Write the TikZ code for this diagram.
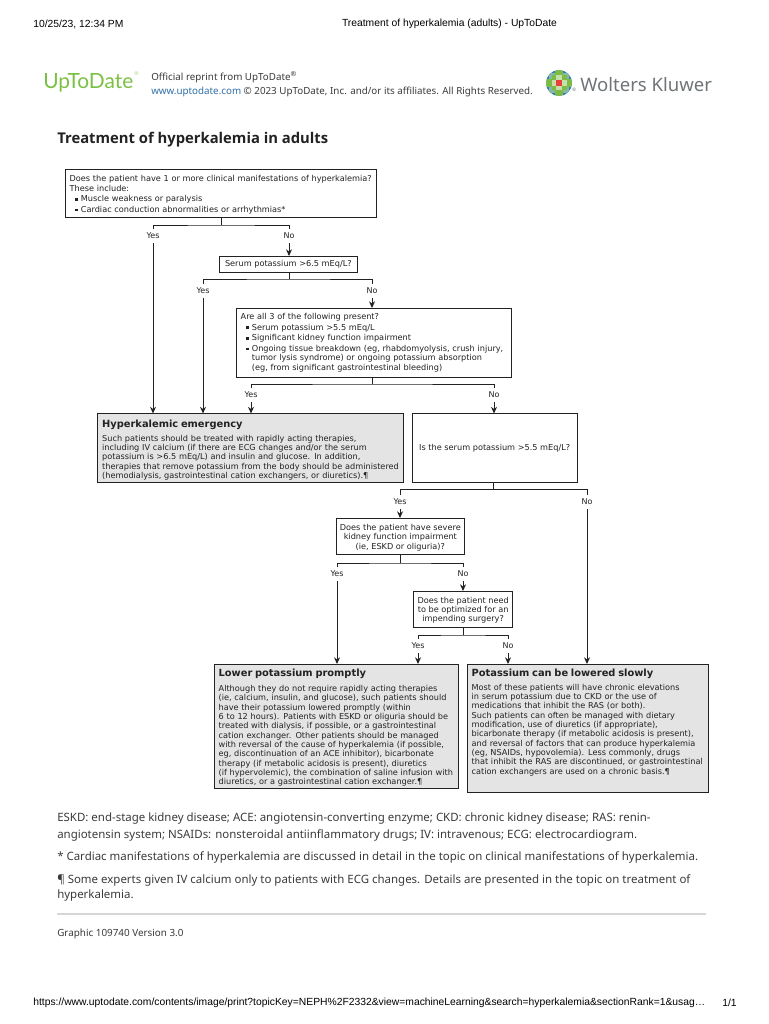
\documentclass[tikz,border=0pt]{standalone}
\usepackage{xcolor}
\usepackage{fontspec}
\setmainfont{DejaVu Sans}
\newfontfamily\utpage{Noto Sans}
\newfontfamily\uttitle{Open Sans}
\newfontfamily\utprint{Liberation Sans}
\newfontfamily\utlogo{Lato}
\definecolor{utink}{HTML}{222222}
\definecolor{utpanel}{HTML}{E4E4E4}
\definecolor{utrule}{HTML}{D6D6D6}
\definecolor{uttext}{HTML}{3A3A3A}
\definecolor{utgreen}{HTML}{7AC143}
\definecolor{utlink}{HTML}{2F6FA8}
\definecolor{utwk}{HTML}{6F7478}
\definecolor{utblue}{HTML}{2E7FB8}
\definecolor{utleaf}{HTML}{7DBB42}
\definecolor{utred}{HTML}{E8403A}
\usetikzlibrary{arrows.meta,positioning}
\tikzset{
  utnode/.style ={rectangle, draw=utink, fill=white, line width=0.7pt, outer sep=0pt,
                  inner xsep=3.5pt, inner ysep=0pt, anchor=north west, align=left,
                  font=\fontsize{6.13}{7}\selectfont, text=utink},
  utask/.style  ={utnode, align=center},
  utpanelbox/.style={utnode, fill=utpanel},
  utarrow/.style={-{Stealth[length=5pt,width=4.5pt]}, line width=0.7pt, draw=utink},
  utfork/.style ={line width=0.6pt, draw=utink},
  utlbl/.style  ={font=\fontsize{6}{7}\selectfont, text=utink, minimum height=10.5pt,
                  inner sep=0pt, outer sep=0pt},
  utpara/.style ={font=\utpage\fontsize{8.6}{12}\selectfont, text=uttext, anchor=west,
                  inner sep=0pt},
  utprt/.style  ={font=\utprint\fontsize{7.75}{9}\selectfont, text=black, anchor=west,
                  inner sep=0pt},
}
\newcommand{\utdot}{\hspace*{4pt}\rule[0.9pt]{2pt}{2pt}\hspace*{2.4pt}}
\newcommand{\uthead}[1]{\rule{0pt}{9pt}{\fontsize{7.4}{8.5}\selectfont\bfseries #1}}

\begin{document}
\begin{tikzpicture}[x=0.75pt,y=-0.75pt]
  \useasboundingbox (0,0) rectangle (768,1024);
  % print header and footer
  \node[utprt] (stamp) at (33,24) {10/25/23, 12:34 PM};
  \node[utprt, anchor=center] (tab) at (449.5,24) {Treatment of hyperkalemia (adults) - UpToDate};
  \node[utprt] (url) at (33,1003) {https://www.uptodate.com/contents/image/print?topicKey=NEPH\%2F2332\&view=machineLearning\&search=hyperkalemia\&sectionRank=1\&usag\dots};
  \node[utprt] (pg) at (722,1003) {1/1};
  % logos
  \node[font=\utlogo\fontsize{15.7}{18}\selectfont, text=utgreen, anchor=west, inner sep=0pt] (logo) at (43,83) {UpToDate};
  \node[font=\utlogo\fontsize{4}{5}\selectfont, text=utgreen!70, anchor=west, inner sep=0pt] (logor) at (134,74) {®};
  \node[utpara, font=\utpage\fontsize{7.35}{9}\selectfont] (reprint) at (151,77) {Official reprint from UpToDate\textsuperscript{®}};
  \node[utpara, font=\utpage\fontsize{7.35}{9}\selectfont] (rights) at (151,92)
       {\textcolor{utlink}{www.uptodate.com} © 2023 UpToDate, Inc. and/or its affiliates. All Rights Reserved.};
  \begin{scope}
    \clip (559,83) circle (13);
    \fill[utblue] (545,69) rectangle (573,97);
    \fill[utblue!55!utleaf!70!white] (549,73) rectangle (569,93);
    \fill[utleaf] (555,69) rectangle (563,97);
    \fill[utleaf] (545,79) rectangle (573,87);
    \fill[utleaf] (551.5,75.5) rectangle (566.5,90.5);
    \fill[utleaf!45!white] (556,75.5) rectangle (562,90.5);
    \fill[utleaf!45!white] (551.5,80) rectangle (566.5,86);
    \fill[utred] (556,80) rectangle (562,86);
  \end{scope}
  \node[font=\utpage\fontsize{3.5}{4}\selectfont, text=utwk, inner sep=0pt] (wkr) at (574,90) {®};
  \node[font=\utpage\fontsize{13.9}{16}\selectfont, text=utwk, anchor=west, inner sep=0pt] (wk) at (580,85) {Wolters Kluwer};
  \node[font=\uttitle\fontsize{11.1}{13}\selectfont\bfseries, text=utink, anchor=west, inner sep=0pt] (title) at (57,140) {Treatment of hyperkalemia in adults};

  % question and result boxes
  \node[utnode, text width=226.5pt, minimum height=36pt] (manif) at (65,169)
       {\rule{0pt}{7.5pt}\mbox{Does the patient have 1 or more clinical manifestations of hyperkalemia?}\\
        These include:\\[1pt]
        \utdot Muscle weakness or paralysis\\[1pt]
        \utdot Cardiac conduction abnormalities or arrhythmias*};
  \node[utask, minimum width=104pt, minimum height=12pt] (serum) at (219,256)
       {Serum potassium >6.5 mEq/L?};
  \node[utnode, text width=199.5pt, minimum height=51.75pt] (three) at (236,308)
       {Are all 3 of the following present?\\[1pt]
        \utdot Serum potassium >5.5 mEq/L\\[1pt]
        \utdot Significant kidney function impairment\\[1pt]
        \utdot Ongoing tissue breakdown (eg, rhabdomyolysis, crush injury,\\
        \hspace*{8.4pt}tumor lysis syndrome) or ongoing potassium absorption\\
        \hspace*{8.4pt}(eg, from significant gastrointestinal bleeding)};
  \node[utpanelbox, text width=222.5pt, minimum height=51.5pt] (emerg) at (97.5,413.5)
       {\uthead{Hyperkalemic emergency}\\[3.5pt]
        Such patients should be treated with rapidly acting therapies,\\
        including IV calcium (if there are ECG changes and/or the serum\\
        potassium is >6.5 mEq/L) and insulin and glucose. In addition,\\
        \mbox{therapies that remove potassium from the body should be administered}\\
        (hemodialysis, gastrointestinal cation exchangers, or diuretics).¶};
  \node[utask, minimum width=124pt, minimum height=51.5pt, inner xsep=0pt] (above) at (412,413.5)
       {Is the serum potassium >5.5 mEq/L?};
  \node[utask, minimum width=96.5pt, minimum height=27pt, inner xsep=0pt] (severe) at (336,518)
       {\rule{0pt}{7pt}Does the patient have severe\\kidney function impairment\\(ie, ESKD or oliguria)?};
  \node[utask, minimum width=74.5pt, minimum height=27.5pt, inner xsep=0pt] (surgery) at (413.5,591)
       {\rule{0pt}{6pt}Does the patient need\\to be optimized for an\\impending surgery?};
  \node[utpanelbox, text width=176pt, minimum height=93pt] (prompt) at (214,664)
       {\uthead{Lower potassium promptly}\\[4.5pt]
        Although they do not require rapidly acting therapies\\
        (ie, calcium, insulin, and glucose), such patients should\\
        have their potassium lowered promptly (within\\
        6 to 12 hours). Patients with ESKD or oliguria should be\\
        treated with dialysis, if possible, or a gastrointestinal\\
        cation exchanger. Other patients should be managed\\
        with reversal of the cause of hyperkalemia (if possible,\\
        eg, discontinuation of an ACE inhibitor), bicarbonate\\
        therapy (if metabolic acidosis is present), diuretics\\
        (if hypervolemic), the combination of saline infusion with\\
        diuretics, or a gastrointestinal cation exchanger.¶\rule[-3pt]{0pt}{0pt}};
  \node[utpanelbox, text width=174pt, minimum height=93pt] (slowly) at (467,664)
       {\uthead{Potassium can be lowered slowly}\\[3.5pt]
        Most of these patients will have chronic elevations\\
        in serum potassium due to CKD or the use of\\
        medications that inhibit the RAS (or both).\\
        Such patients can often be managed with dietary\\
        modification, use of diuretics (if appropriate),\\
        bicarbonate therapy (if metabolic acidosis is present),\\
        and reversal of factors that can produce hyperkalemia\\
        (eg, NSAIDs, hypovolemia). Less commonly, drugs\\
        that inhibit the RAS are discontinued, or gastrointestinal\\
        cation exchangers are used on a chronic basis.¶\\[7pt]~};

  % yes/no labels
  \foreach \n/\t/\x/\y in {y1/Yes/153/236, n1/No/289/236, y2/Yes/203/291, n2/No/372/291,
                           y3/Yes/251/395, n3/No/494/395, y4/Yes/400/502, n4/No/587/502,
                           y5/Yes/337/574, n5/No/463/574, y6/Yes/418/646, n6/No/508/646}{
    \node[utlbl] (\n) at (\x,\y) {\t};}

  % forks below the boxes
  \foreach \q/\s/\y/\n/\fy in {manif/221/y1/n1/225, serum/289/y2/n2/279, three/372/y3/n3/384,
                               above/493/y4/n4/489.5, severe/400/y5/n5/563, surgery/463/y6/n6/635}{
    \coordinate (\q fork) at (\s,\fy);
    \draw[utfork] (\q.south -| \q fork) -- (\q fork);
    \draw[utfork] (\y.north) |- (\q fork) -| (\n.north);
  }

  % arrows into the next box
  \draw[utarrow] (y1.south) -- (y1.south |- emerg.north);
  \draw[utarrow] (n1.south) -- (n1.south |- serum.north);
  \draw[utarrow] (y2.south) -- (y2.south |- emerg.north);
  \draw[utarrow] (n2.south) -- (n2.south |- three.north);
  \draw[utarrow] (y3.south) -- (y3.south |- emerg.north);
  \draw[utarrow] (n3.south) -- (n3.south |- above.north);
  \draw[utarrow] (y4.south) -- (y4.south |- severe.north);
  \draw[utarrow] (n4.south) -- (n4.south |- slowly.north);
  \draw[utarrow] (y5.south) -- (y5.south |- prompt.north);
  \draw[utarrow] (n5.south) -- (n5.south |- surgery.north);
  \draw[utarrow] (y6.south) -- (y6.south |- prompt.north);
  \draw[utarrow] (n6.south) -- (n6.south |- slowly.north);

  % notes under the chart
  \node[utpara] (abbr) at (57,819) {ESKD: end-stage kidney disease; ACE: angiotensin-converting enzyme; CKD: chronic kidney disease; RAS: renin-};
  \node[utpara] (abbrb) at (57,835) {angiotensin system; NSAIDs: nonsteroidal antiinflammatory drugs; IV: intravenous; ECG: electrocardiogram.};
  \node[utpara] (star) at (57,857) {* Cardiac manifestations of hyperkalemia are discussed in detail in the topic on clinical manifestations of hyperkalemia.};
  \node[utpara] (para) at (57,880) {¶ Some experts given IV calcium only to patients with ECG changes. Details are presented in the topic on treatment of};
  \node[utpara] (parab) at (57,896) {hyperkalemia.};
  \draw[utrule, line width=0.8pt] (57,914) -- (706,914);
  \node[utpara, font=\utpage\fontsize{7.4}{9}\selectfont] (graphic) at (57,934) {Graphic 109740 Version 3.0};
\end{tikzpicture}
\end{document}
